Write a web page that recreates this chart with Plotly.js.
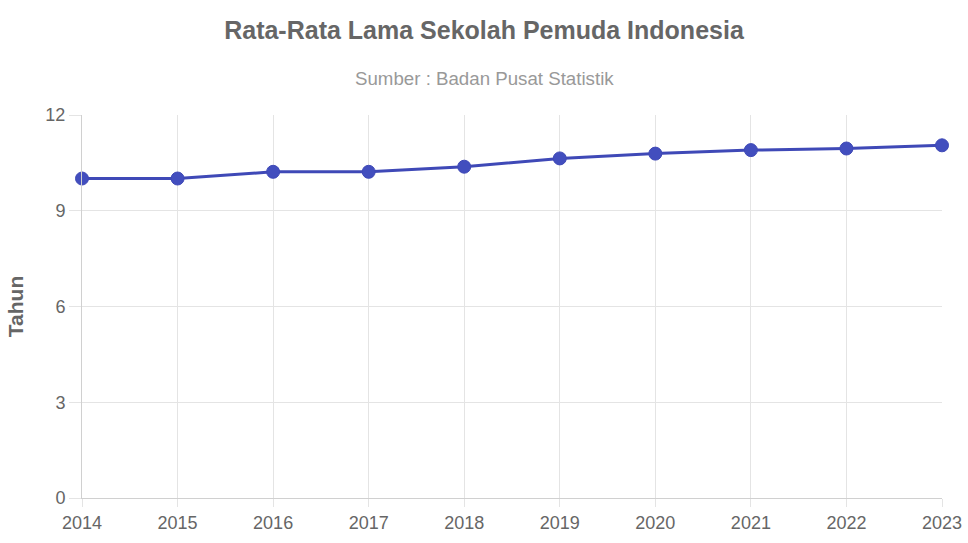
<!DOCTYPE html>
<html>
<head>
<meta charset="utf-8">
<script src="https://cdn.plot.ly/plotly-3.0.1.min.js"></script>
<style>
  html, body { margin: 0; padding: 0; background: #fff; }
  #chart { width: 968px; height: 543px; }
</style>
</head>
<body>
<div id="chart"></div>
<script>
// Rata-rata lama sekolah pemuda (tahun)
var tahun = [2014, 2015, 2016, 2017, 2018, 2019, 2020, 2021, 2022, 2023];
var rataLamaSekolah = [10.01, 10.01, 10.22, 10.22, 10.38, 10.64, 10.79, 10.90, 10.95, 11.05];
var yTicks = [0, 3, 6, 9, 12];

var lineColor = 'rgb(63, 73, 183)';

var trace = {
  x: tahun,
  y: rataLamaSekolah,
  type: 'scatter',
  mode: 'lines+markers',
  cliponaxis: false,
  line: { color: lineColor, width: 3 },
  marker: {
    color: 'rgb(66, 78, 190)',
    size: 13,
    line: { color: lineColor, width: 1 }
  },
  hoverinfo: 'x+y'
};

var layout = {
  width: 968,
  height: 543,
  paper_bgcolor: '#fff',
  plot_bgcolor: '#fff',
  margin: { l: 82, r: 26, t: 115, b: 45 },
  showlegend: false,
  font: { family: 'Liberation Sans, Arial, sans-serif', color: '#666' },
  title: {
    text: '<b>Rata-Rata Lama Sekolah Pemuda Indonesia</b>',
    font: { size: 25, color: '#666' },
    x: 0.5,
    xref: 'container',
    xanchor: 'center',
    y: 1 - 30 / 543,
    yref: 'container',
    yanchor: 'middle'
  },
  annotations: [
    {
      xref: 'paper',
      yref: 'paper',
      x: (484 - 82) / 860,
      y: (498 - 78) / 383,
      xanchor: 'center',
      yanchor: 'middle',
      text: 'Sumber : Badan Pusat Statistik',
      font: { size: 18.7, color: '#999' },
      showarrow: false
    }
  ],
  xaxis: {
    type: 'linear',
    range: [2014, 2023],
    tickvals: tahun,
    ticktext: tahun.map(String),
    showgrid: true,
    gridcolor: '#e4e4e4',
    gridwidth: 1,
    showline: true,
    linecolor: '#d0d0d0',
    linewidth: 1,
    zeroline: false,
    ticks: 'outside',
    ticklen: 8,
    tickcolor: '#e4e4e4',
    tickfont: { size: 18, color: '#666' },
    fixedrange: true
  },
  yaxis: {
    range: [0, 12],
    tickvals: yTicks,
    showgrid: true,
    gridcolor: '#e4e4e4',
    gridwidth: 1,
    showline: true,
    linecolor: '#d0d0d0',
    linewidth: 1,
    zeroline: false,
    ticks: 'outside',
    ticklen: 12,
    tickcolor: '#e4e4e4',
    tickfont: { size: 18, color: '#666' },
    title: {
      text: '<b>Tahun</b>',
      font: { size: 21, color: '#666' },
      standoff: 16
    },
    fixedrange: true
  }
};

Plotly.newPlot('chart', [trace], layout, { displayModeBar: false, responsive: false });
</script>
</body>
</html>
